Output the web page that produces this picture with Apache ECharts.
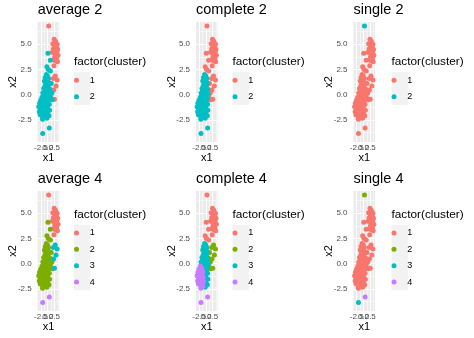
<!DOCTYPE html>
<html>
<head>
<meta charset="utf-8">
<script src="https://cdn.jsdelivr.net/npm/echarts@6/dist/echarts.min.js"></script>
<style>
  html, body { margin: 0; padding: 0; background: #ffffff; }
  #chart { width: 474px; height: 338px; }
</style>
</head>
<body>
<div id="chart"></div>
<script>
// Observations (x1, x2), shared by all six clusterings
const x1 = [
  0.37,
  2.4, 2.9, 1.9, 3.5, 2.6,  3.2, 2.1, 3.7, 2.8, 3.4,  1.7, 2.4, 3.0, 3.85, 2.6,  3.3, 2.1, 3.6, 2.9, 2.3,
  2.8, 2.1, 3.5, 3.1, 2.2, 2.5,
  1.3, 0.8, 1.6, 1.0, 1.7,
  0.1, 0.95, -0.3, 0.2, 1.0,
  -0.5, -0.1, -0.9, 0.3, -0.4,  -1.2, 0.0, 0.5, -0.7, -0.2,  0.2, -1.0, -0.5,
  -1.5, -0.8, 0.0, 0.6, -1.2,  -0.3, 0.3, -1.8, -0.9, -0.1,  0.8, -1.4, -0.5, 0.2, -2.1,  -1.0, -0.2, 0.5, -1.6,
  -2.6, -0.7, 0.1, -1.9, -1.2,  -3.0, -0.3, 0.6, -2.3, -1.5,  -0.8, -3.3, 0.0, -2.0, -1.1,  -2.7, -0.4, 0.7, -1.7, -3.1,
  -0.9, -2.3, -0.1, -1.4, -2.8,  -0.6, 0.5, -2.0, -1.1, -1.9,  -0.3,
  0.6, -1.85
];
const x2 = [
  6.8,
  5.5, 5.3, 5.05, 5.0, 4.85,  4.7, 4.55, 4.5, 4.4, 4.3,  4.2, 4.15, 4.05, 3.9, 3.75,  3.55, 3.45, 3.25, 3.35, 2.85,
  1.85, 1.6, 1.45, 0.85, 0.45, -0.45,
  1.1, 0.55, 0.15, -0.2, -0.5,
  4.1, 3.4, 2.75, 2.5, 2.35,
  2.0, 1.85, 1.7, 1.6, 1.5,  1.35, 1.3, 1.15, 1.1, 1.0,  0.9, 0.85, 0.8,
  0.6, 0.55, 0.5, 0.45, 0.35,  0.3, 0.2, 0.15, 0.1, 0.05,  0.0, -0.05, -0.1, -0.2, -0.25,  -0.3, -0.35, -0.4, -0.45,
  -0.55, -0.6, -0.65, -0.7, -0.8,  -0.85, -0.9, -0.95, -1.0, -1.05,  -1.15, -1.2, -1.2, -1.3, -1.35,  -1.45, -1.5, -1.55, -1.6, -1.7,
  -1.75, -1.8, -1.85, -1.95, -2.0,  -2.05, -2.1, -2.15, -2.25, -2.45,  -2.35,
  -3.3, -3.85
];

// Cluster memberships from each linkage / number of clusters
const clAverage2 = [
  1,
  1, 1, 1, 1, 1,  1, 1, 1, 1, 1,  1, 1, 1, 1, 1,  1, 1, 1, 1, 1,
  1, 1, 1, 1, 1, 1,
  2, 2, 2, 2, 2,
  2, 2, 2, 2, 2,
  2, 2, 2, 2, 2,  2, 2, 2, 2, 2,  2, 2, 2,
  2, 2, 2, 2, 2,  2, 2, 2, 2, 2,  2, 2, 2, 2, 2,  2, 2, 2, 2,
  2, 2, 2, 2, 2,  2, 2, 2, 2, 2,  2, 2, 2, 2, 2,  2, 2, 2, 2, 2,
  2, 2, 2, 2, 2,  2, 2, 2, 2, 2,  2,
  2, 2
];
const clComplete2 = [
  1,
  1, 1, 1, 1, 1,  1, 1, 1, 1, 1,  1, 1, 1, 1, 1,  1, 1, 1, 1, 1,
  1, 1, 1, 1, 1, 1,
  1, 1, 1, 1, 1,
  1, 1, 1, 1, 1,
  2, 2, 2, 2, 2,  2, 2, 2, 2, 2,  2, 2, 2,
  2, 2, 2, 2, 2,  2, 2, 2, 2, 2,  2, 2, 2, 2, 2,  2, 2, 2, 2,
  2, 2, 2, 2, 2,  2, 2, 2, 2, 2,  2, 2, 2, 2, 2,  2, 2, 2, 2, 2,
  2, 2, 2, 2, 2,  2, 2, 2, 2, 2,  2,
  2, 2
];
const clSingle2 = [
  2,
  1, 1, 1, 1, 1,  1, 1, 1, 1, 1,  1, 1, 1, 1, 1,  1, 1, 1, 1, 1,
  1, 1, 1, 1, 1, 1,
  1, 1, 1, 1, 1,
  1, 1, 1, 1, 1,
  1, 1, 1, 1, 1,  1, 1, 1, 1, 1,  1, 1, 1,
  1, 1, 1, 1, 1,  1, 1, 1, 1, 1,  1, 1, 1, 1, 1,  1, 1, 1, 1,
  1, 1, 1, 1, 1,  1, 1, 1, 1, 1,  1, 1, 1, 1, 1,  1, 1, 1, 1, 1,
  1, 1, 1, 1, 1,  1, 1, 1, 1, 1,  1,
  1, 1
];
const clAverage4 = [
  1,
  1, 1, 1, 1, 1,  1, 1, 1, 1, 1,  1, 1, 1, 1, 1,  1, 1, 1, 1, 1,
  3, 3, 3, 3, 3, 3,
  2, 2, 2, 2, 2,
  2, 2, 2, 2, 2,
  2, 2, 2, 2, 2,  2, 2, 2, 2, 2,  2, 2, 2,
  2, 2, 2, 2, 2,  2, 2, 2, 2, 2,  2, 2, 2, 2, 2,  2, 2, 2, 2,
  2, 2, 2, 2, 2,  2, 2, 2, 2, 2,  2, 2, 2, 2, 2,  2, 2, 2, 2, 2,
  2, 2, 2, 2, 2,  2, 2, 2, 2, 2,  2,
  4, 4
];
const clComplete4 = [
  1,
  1, 1, 1, 1, 1,  1, 1, 1, 1, 1,  1, 1, 1, 1, 1,  1, 1, 1, 1, 1,
  2, 2, 2, 2, 2, 2,
  2, 2, 2, 2, 2,
  1, 1, 1, 1, 1,
  3, 3, 3, 3, 3,  3, 3, 3, 3, 3,  3, 3, 3,
  3, 3, 3, 3, 3,  3, 3, 3, 3, 3,  3, 3, 3, 3, 4,  3, 3, 3, 4,
  4, 3, 3, 4, 4,  4, 3, 3, 4, 4,  3, 4, 3, 4, 4,  4, 3, 3, 4, 4,
  4, 4, 3, 4, 4,  3, 3, 4, 4, 4,  3,
  4, 4
];
const clSingle4 = [
  2,
  1, 1, 1, 1, 1,  1, 1, 1, 1, 1,  1, 1, 1, 1, 1,  1, 1, 1, 1, 1,
  1, 1, 1, 1, 1, 1,
  1, 1, 1, 1, 1,
  1, 1, 1, 1, 1,
  1, 1, 1, 1, 1,  1, 1, 1, 1, 1,  1, 1, 1,
  1, 1, 1, 1, 1,  1, 1, 1, 1, 1,  1, 1, 1, 1, 1,  1, 1, 1, 1,
  1, 1, 1, 1, 1,  1, 1, 1, 1, 1,  1, 1, 1, 1, 1,  1, 1, 1, 1, 1,
  1, 1, 1, 1, 1,  1, 1, 1, 1, 1,  1,
  4, 3
];

const panelTitles = ['average 2', 'complete 2', 'single 2', 'average 4', 'complete 4', 'single 4'];
const panelClusters = [clAverage2, clComplete2, clSingle2, clAverage4, clComplete4, clSingle4];
const panelK = [2, 2, 2, 4, 4, 4];
const legendTitle = 'factor(cluster)';

const xTicks = [-2.5, 0, 2.5];
const xTicksOuter = [-2.5, 2.5];
const xTicksInner = [0];
const xMinor = [-1.25, 1.25, 3.75];
const yTicks = [-2.5, 0, 2.5, 5];
const yMinor = [-3.75, -1.25, 1.25, 3.75, 6.25];

const hue2 = ['#F8766D', '#00BFC4'];
const hue4 = ['#F8766D', '#7CAE00', '#00BFC4', '#C77CFF'];

// ---- layout ----
const FONT = 'Liberation Sans, Arial, sans-serif';
const cellTop = [0, 169];
const panelLeft = [37.7, 196, 353.5];
const legendLeft = [74, 232.5, 391.5];
const PANEL_W = 21.6, PANEL_TOP = 22, PANEL_H = 120;
const KEY = 16.4;
const X_MIN = -3.7, X_MAX = 4.3, Y_MIN = -4.7, Y_MAX = 7.2;

const option = {
  animation: false,
  backgroundColor: '#ffffff',
  title: [], grid: [], xAxis: [], yAxis: [], legend: [], series: [],
  graphic: { elements: [] }
};

function gridLines() {
  const items = [];
  yTicks.forEach(v => items.push({ yAxis: v, lineStyle: { width: 1.07 } }));
  yMinor.forEach(v => items.push({ yAxis: v, lineStyle: { width: 0.53 } }));
  xTicks.forEach(v => items.push({ xAxis: v, lineStyle: { width: 1.07 } }));
  xMinor.forEach(v => items.push({ xAxis: v, lineStyle: { width: 0.53 } }));
  return {
    silent: true, z: 1, symbol: ['none', 'none'], label: { show: false },
    emphasis: { disabled: true },
    lineStyle: { color: '#ffffff', type: 'solid', width: 1 },
    data: items
  };
}

const tickLabelStyle = {
  formatter: v => v.toFixed(1),
  showMinLabel: true, showMaxLabel: true, hideOverlap: false,
  fontFamily: FONT, fontSize: 8, color: '#4D4D4D'
};

panelTitles.forEach((title, p) => {
  const col = p % 3, row = Math.floor(p / 3);
  const cy = cellTop[row];
  const K = panelK[p];
  const colors = K === 2 ? hue2 : hue4;
  const clusters = panelClusters[p];

  option.title.push({
    text: title, left: panelLeft[col], top: cy + 2, padding: 0,
    textStyle: { fontFamily: FONT, fontSize: 14.5, fontWeight: 'normal', color: '#000', lineHeight: 16 }
  });

  option.grid.push({
    left: panelLeft[col], top: cy + PANEL_TOP, width: PANEL_W, height: PANEL_H,
    show: true, backgroundColor: '#EBEBEB', borderWidth: 0, containLabel: false
  });

  // main x axis: ticks, centre label and title
  option.xAxis.push({
    type: 'value', gridIndex: p, position: 'bottom', min: X_MIN, max: X_MAX,
    splitLine: { show: false }, axisLine: { show: false },
    axisTick: { show: true, customValues: xTicks, length: 3.7, lineStyle: { color: '#333333', width: 1 } },
    axisLabel: Object.assign({ customValues: xTicksInner, margin: 2 }, tickLabelStyle),
    name: 'x1', nameLocation: 'middle', nameGap: 10,
    nameTextStyle: { fontFamily: FONT, fontSize: 11, color: '#000' }
  });
  // companion x axis carrying the outer tick labels (they overlap the centre one)
  option.xAxis.push({
    type: 'value', gridIndex: p, position: 'bottom', offset: 0, min: X_MIN, max: X_MAX,
    splitLine: { show: false }, axisLine: { show: false }, axisTick: { show: false },
    axisLabel: Object.assign({ customValues: xTicksOuter, margin: 2 }, tickLabelStyle)
  });

  option.yAxis.push({
    type: 'value', gridIndex: p, min: Y_MIN, max: Y_MAX,
    splitLine: { show: false }, axisLine: { show: false },
    axisTick: { show: true, customValues: yTicks, length: 3.7, lineStyle: { color: '#333333', width: 1 } },
    axisLabel: Object.assign({ customValues: yTicks, margin: 6 }, tickLabelStyle),
    name: 'x2', nameLocation: 'middle', nameGap: 19, nameMoveOverlap: false,
    nameTextStyle: { fontFamily: FONT, fontSize: 11, color: '#000' }
  });

  // legend block: key column centred on the panel
  const keysTop = cy + 88.5 - K * KEY / 2;
  option.title.push({
    text: legendTitle, left: legendLeft[col], top: keysTop - 10 - 6.5, padding: 0,
    textStyle: { fontFamily: FONT, fontSize: 11.8, fontWeight: 'normal', color: '#000', lineHeight: 13 }
  });
  option.graphic.elements.push({
    type: 'rect', z: 0, silent: true,
    shape: { x: legendLeft[col], y: keysTop, width: KEY, height: K * KEY },
    style: { fill: '#F2F2F2' }
  });

  const names = [];
  for (let k = 1; k <= K; k++) {
    const name = title + '|' + k;
    names.push(name);
    const pts = [];
    clusters.forEach((c, i) => { if (c === k) pts.push([x1[i], x2[i]]); });
    const s = {
      type: 'scatter', name: name, xAxisIndex: 2 * p, yAxisIndex: p,
      symbol: 'circle', symbolSize: 5, data: pts,
      itemStyle: { color: colors[k - 1], opacity: 1 },
      emphasis: { disabled: true }, silent: true, z: 2
    };
    if (k === 1) s.markLine = gridLines();
    option.series.push(s);
  }

  option.legend.push({
    orient: 'vertical', left: legendLeft[col], top: keysTop + KEY / 2 - 6, padding: 0,
    itemWidth: KEY, itemHeight: 5, itemGap: KEY - 12, icon: 'circle',
    selectedMode: false, data: names,
    formatter: n => n.split('|')[1],
    textStyle: { fontFamily: FONT, fontSize: 9, color: '#000', lineHeight: 12 }
  });
});

const chart = echarts.init(document.getElementById('chart'), null, { renderer: 'canvas' });
chart.setOption(option);
</script>
</body>
</html>
